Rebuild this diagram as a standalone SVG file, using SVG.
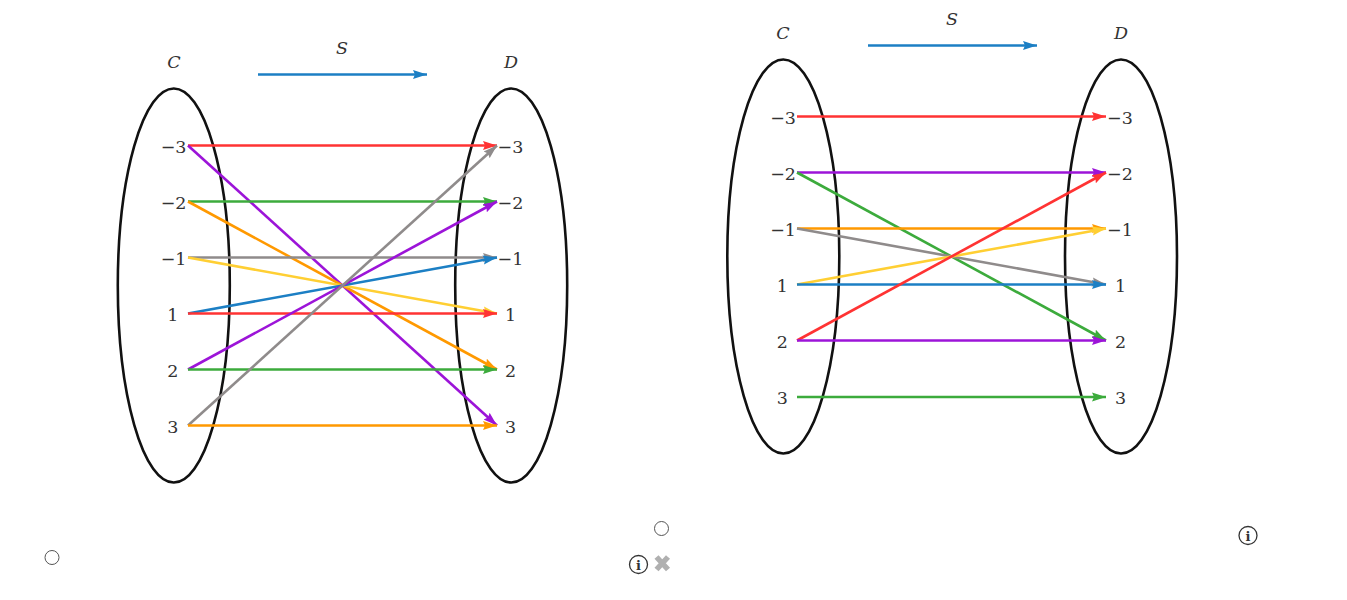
<svg xmlns="http://www.w3.org/2000/svg" width="1347" height="600" viewBox="0 0 1347 600">
<style>
.set{fill:none;stroke:#111;stroke-width:2.6}
.e{fill:none;stroke-width:2.6}
.n{font-family:"DejaVu Serif",serif;font-size:17.5px;fill:#333}
.v{font-family:"DejaVu Serif",serif;font-style:italic;font-size:17.5px;fill:#333;text-anchor:middle}
.r{stroke:#ff3333}.p{stroke:#9c14d8}.g{stroke:#3cab3c}.o{stroke:#ff9900}.k{stroke:#8f8b8b}.y{stroke:#ffcf33}.b{stroke:#1c7fc4}
.radio{fill:#fff;stroke:#555;stroke-width:1}
.info{fill:#fff;stroke:#333;stroke-width:1.3}
.i{font-family:"DejaVu Serif",serif;font-weight:bold;font-size:13px;fill:#333;text-anchor:middle}
</style>
<defs>
<marker id="mr" markerUnits="userSpaceOnUse" markerWidth="15" markerHeight="11" refX="14" refY="5.5" orient="auto"><path d="M0 1L14 5.5L0 10L2 5.5Z" fill="#ff3333"/></marker>
<marker id="mp" markerUnits="userSpaceOnUse" markerWidth="15" markerHeight="11" refX="14" refY="5.5" orient="auto"><path d="M0 1L14 5.5L0 10L2 5.5Z" fill="#9c14d8"/></marker>
<marker id="mg" markerUnits="userSpaceOnUse" markerWidth="15" markerHeight="11" refX="14" refY="5.5" orient="auto"><path d="M0 1L14 5.5L0 10L2 5.5Z" fill="#3cab3c"/></marker>
<marker id="mo" markerUnits="userSpaceOnUse" markerWidth="15" markerHeight="11" refX="14" refY="5.5" orient="auto"><path d="M0 1L14 5.5L0 10L2 5.5Z" fill="#ff9900"/></marker>
<marker id="mk" markerUnits="userSpaceOnUse" markerWidth="15" markerHeight="11" refX="14" refY="5.5" orient="auto"><path d="M0 1L14 5.5L0 10L2 5.5Z" fill="#8f8b8b"/></marker>
<marker id="my" markerUnits="userSpaceOnUse" markerWidth="15" markerHeight="11" refX="14" refY="5.5" orient="auto"><path d="M0 1L14 5.5L0 10L2 5.5Z" fill="#ffcf33"/></marker>
<marker id="mb" markerUnits="userSpaceOnUse" markerWidth="15" markerHeight="11" refX="14" refY="5.5" orient="auto"><path d="M0 1L14 5.5L0 10L2 5.5Z" fill="#1c7fc4"/></marker>
</defs>
<g id="left-diagram">
<g id="left-set-C"><ellipse class="set" cx="173.8" cy="285.5" rx="56" ry="197"/><text class="v" x="174" y="68">C</text>
<g class="n" text-anchor="end"><text x="186.5" y="153">−3</text><text x="186.5" y="209">−2</text><text x="186.5" y="265">−1</text><text x="178.5" y="321">1</text><text x="178.5" y="377">2</text><text x="178.5" y="433">3</text></g></g>
<g id="left-set-D"><ellipse class="set" cx="511.2" cy="285.5" rx="56" ry="197"/><text class="v" x="511" y="68">D</text>
<g class="n"><text x="497.5" y="153">−3</text><text x="497.5" y="209">−2</text><text x="497.5" y="265">−1</text><text x="505" y="321">1</text><text x="505" y="377">2</text><text x="505" y="433">3</text></g></g>
<g id="left-S"><text class="v" x="342" y="54">S</text></g>
<g id="left-connectors">
<line class="e b" x1="258" y1="74.5" x2="427" y2="74.5" marker-end="url(#mb)"/>
<line class="e r" x1="188" y1="145.5" x2="497" y2="145.5" marker-end="url(#mr)"/>
<line class="e p" x1="188" y1="145.5" x2="497" y2="425.5" marker-end="url(#mp)"/>
<line class="e g" x1="188" y1="201.5" x2="497" y2="201.5" marker-end="url(#mg)"/>
<line class="e o" x1="188" y1="201.5" x2="497" y2="369.5" marker-end="url(#mo)"/>
<line class="e k" x1="188" y1="257.5" x2="497" y2="257.5" marker-end="url(#mk)"/>
<line class="e y" x1="188" y1="257.5" x2="497" y2="313.5" marker-end="url(#my)"/>
<line class="e b" x1="188" y1="313.5" x2="497" y2="257.5" marker-end="url(#mb)"/>
<line class="e r" x1="188" y1="313.5" x2="497" y2="313.5" marker-end="url(#mr)"/>
<line class="e p" x1="188" y1="369.5" x2="497" y2="201.5" marker-end="url(#mp)"/>
<line class="e g" x1="188" y1="369.5" x2="497" y2="369.5" marker-end="url(#mg)"/>
<line class="e k" x1="188" y1="425.5" x2="497" y2="145.5" marker-end="url(#mk)"/>
<line class="e o" x1="188" y1="425.5" x2="497" y2="425.5" marker-end="url(#mo)"/>
</g>
</g>
<g id="right-diagram">
<g id="right-set-C"><ellipse class="set" cx="783.3" cy="256.5" rx="56" ry="197"/><text class="v" x="783" y="39">C</text>
<g class="n" text-anchor="end"><text x="796" y="124">−3</text><text x="796" y="180">−2</text><text x="796" y="236">−1</text><text x="788" y="292">1</text><text x="788" y="348">2</text><text x="788" y="404">3</text></g></g>
<g id="right-set-D"><ellipse class="set" cx="1121" cy="256.5" rx="56" ry="197"/><text class="v" x="1121" y="39">D</text>
<g class="n"><text x="1107" y="124">−3</text><text x="1107" y="180">−2</text><text x="1107" y="236">−1</text><text x="1115" y="292">1</text><text x="1115" y="348">2</text><text x="1115" y="404">3</text></g></g>
<g id="right-S"><text class="v" x="952" y="25">S</text></g>
<g id="right-connectors">
<line class="e b" x1="868" y1="45.5" x2="1037" y2="45.5" marker-end="url(#mb)"/>
<line class="e r" x1="797" y1="116.5" x2="1106" y2="116.5" marker-end="url(#mr)"/>
<line class="e p" x1="797" y1="172.5" x2="1106" y2="172.5" marker-end="url(#mp)"/>
<line class="e g" x1="797" y1="172.5" x2="1106" y2="340.5" marker-end="url(#mg)"/>
<line class="e o" x1="797" y1="228.5" x2="1106" y2="228.5" marker-end="url(#mo)"/>
<line class="e k" x1="797" y1="228.5" x2="1106" y2="284.5" marker-end="url(#mk)"/>
<line class="e y" x1="797" y1="284.5" x2="1106" y2="228.5" marker-end="url(#my)"/>
<line class="e b" x1="797" y1="284.5" x2="1106" y2="284.5" marker-end="url(#mb)"/>
<line class="e r" x1="797" y1="340.5" x2="1106" y2="172.5" marker-end="url(#mr)"/>
<line class="e p" x1="797" y1="340.5" x2="1106" y2="340.5" marker-end="url(#mp)"/>
<line class="e g" x1="797" y1="397" x2="1106" y2="397" marker-end="url(#mg)"/>
</g>
</g>
<g id="radio-left"><circle class="radio" cx="52" cy="557.5" r="7"/></g>
<g id="radio-right"><circle class="radio" cx="661.5" cy="528.5" r="7"/></g>
<g id="info-left"><circle class="info" cx="638.5" cy="564.5" r="9"/><text class="i" x="638.5" y="569.5">i</text></g>
<g id="cross"><path d="M656.5 557L668 569.5M668 557L656.5 569.5" fill="none" stroke="#b0b0b0" stroke-width="5.5"/></g>
<g id="info-right"><circle class="info" cx="1248" cy="535.5" r="9"/><text class="i" x="1248" y="540.5">i</text></g>
</svg>
